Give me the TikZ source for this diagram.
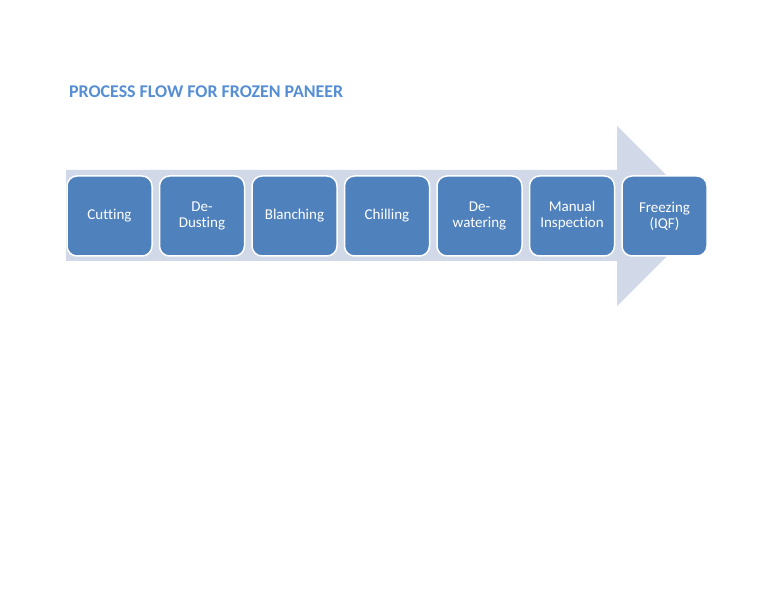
\documentclass[tikz,border=0pt]{standalone}
\usepackage{fontspec}
\setmainfont[Ligatures=NoCommon]{Carlito}
\definecolor{boxblue}{HTML}{4F81BD}
\definecolor{arrowgrey}{HTML}{D1D9E8}
\definecolor{titleblue}{HTML}{558ED5}
\begin{document}
\begin{tikzpicture}[x=1pt,y=1pt,
  stepbox/.style={draw=white, line width=1.5pt, fill=boxblue, rounded corners=10pt,
    minimum width=85pt, minimum height=80pt, inner sep=0pt, text=white,
    font=\fontsize{15}{16}\selectfont, align=center, text width=84pt}]
\useasboundingbox (0,0) rectangle (768,594);
\node[anchor=base west, text=titleblue, font=\fontsize{17.9}{19}\selectfont\bfseries, inner sep=0pt] (title) at (69,496) {PROCESS FLOW FOR FROZEN PANEER};
\fill[arrowgrey] (66,424) -- (617,424) -- (617,468) -- (707,378) -- (617,288) -- (617,333) -- (66,333) -- cycle;
\node[stepbox] (s1) at (109.5,378) {Cutting};
\node[stepbox] (s2) at (202,378) {De-\\Dusting};
\node[stepbox] (s3) at (294.5,378) {Blanching};
\node[stepbox] (s4) at (387,378) {Chilling};
\node[stepbox] (s5) at (479.5,378) {De-\\watering};
\node[stepbox] (s6) at (572,378) {Manual\\Inspection};
\node[stepbox] (s7) at (664.5,378) {Freezing\\(IQF)};
\end{tikzpicture}
\end{document}
